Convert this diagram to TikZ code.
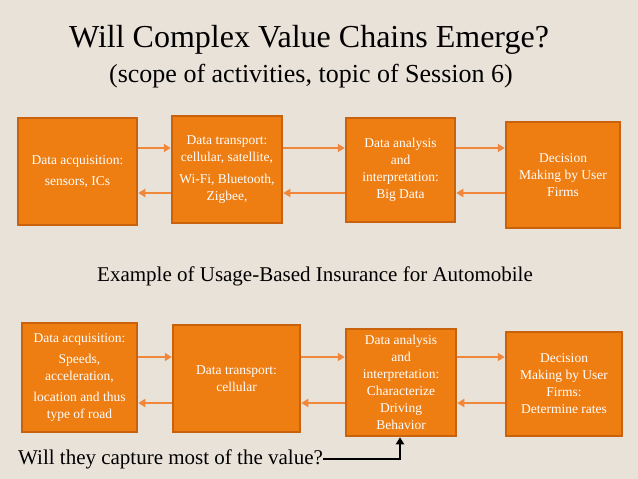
\documentclass[tikz,border=0pt]{standalone}
\usepackage{fontspec}
\setmainfont{Liberation Serif}
\usetikzlibrary{arrows.meta}
\definecolor{bgc}{HTML}{E9E2D8}
\definecolor{boxc}{HTML}{EE7D12}
\definecolor{edgec}{HTML}{C9620C}
\definecolor{arrc}{HTML}{F0873A}
\tikzset{
  stage/.style={draw=edgec, line width=2.5pt, fill=boxc, text=white, align=center,
    font=\fontsize{13.5}{17}\selectfont, inner sep=1pt},
  flow/.style={arrc, line width=2.5pt, -{Triangle[length=7pt,width=8pt]}}
}
\begin{document}
\begin{tikzpicture}[x=1pt,y=-1pt]
   \fill[bgc] (0,0) rectangle (638,479);
   \useasboundingbox (0,0) rectangle (638,479);
   \node[font=\fontsize{32}{36}\selectfont] (title) at (309,40){Will Complex Value Chains Emerge?};
   \node[font=\fontsize{26}{30}\selectfont] (sub) at (311,76){(scope of activities, topic of Session 6)};
   % top chain
   \node[stage, minimum width=119, minimum height=107] (a1) at (77.5,171.5){Data acquisition:\\[4pt]sensors, ICs};
   \node[stage, minimum width=110, minimum height=107] (a2) at (227,169.5){Data transport:\\cellular, satellite,\\[5pt]Wi-Fi, Bluetooth,\\Zigbee,};
   \node[stage, minimum width=109, minimum height=104] (a3) at (400.5,170){Data analysis\\and\\interpretation:\\Big Data};
   \node[stage, minimum width=114, minimum height=106] (a4) at (563,175){Decision\\Making by User\\Firms};
   \draw[flow] (a1.east |- 0,148) -- (a2.west |- 0,148);
   \draw[flow] (a2.east |- 0,148) -- (a3.west |- 0,148);
   \draw[flow] (a3.east |- 0,148) -- (a4.west |- 0,148);
   \draw[flow] (a2.west |- 0,193) -- (a1.east |- 0,193);
   \draw[flow] (a3.west |- 0,193) -- (a2.east |- 0,193);
   \draw[flow] (a4.west |- 0,193) -- (a3.east |- 0,193);
   \node[font=\fontsize{21}{24}\selectfont] (ex) at (315,276){Example of Usage-Based Insurance for Automobile};
   % bottom chain
   \node[stage, minimum width=115, minimum height=109] (b1) at (79.5,377.5){Data acquisition:\\[4pt]Speeds,\\acceleration,\\[4pt]location and thus\\type of road};
   \node[stage, minimum width=127, minimum height=107] (b2) at (236.5,378.5){Data transport:\\cellular};
   \node[stage, minimum width=110, minimum height=107] (b3) at (401,382.5){Data analysis\\and\\interpretation:\\Characterize\\Driving\\Behavior};
   \node[stage, minimum width=116, minimum height=104] (b4) at (564,384){Decision\\Making by User\\Firms:\\Determine rates};
   \draw[flow] (b1.east |- 0,357) -- (b2.west |- 0,357);
   \draw[flow] (b2.east |- 0,357) -- (b3.west |- 0,357);
   \draw[flow] (b3.east |- 0,357) -- (b4.west |- 0,357);
   \draw[flow] (b2.west |- 0,403) -- (b1.east |- 0,403);
   \draw[flow] (b3.west |- 0,403) -- (b2.east |- 0,403);
   \draw[flow] (b4.west |- 0,403) -- (b3.east |- 0,403);
   \node[font=\fontsize{21}{24}\selectfont, anchor=west, inner sep=0pt] (q) at (18,459){Will they capture most of the value?};
   \draw[line width=2.5pt, -{Triangle[length=7pt,width=8pt]}] (q.east) -| ([xshift=-1pt]b3.south);
\end{tikzpicture}
\end{document}
